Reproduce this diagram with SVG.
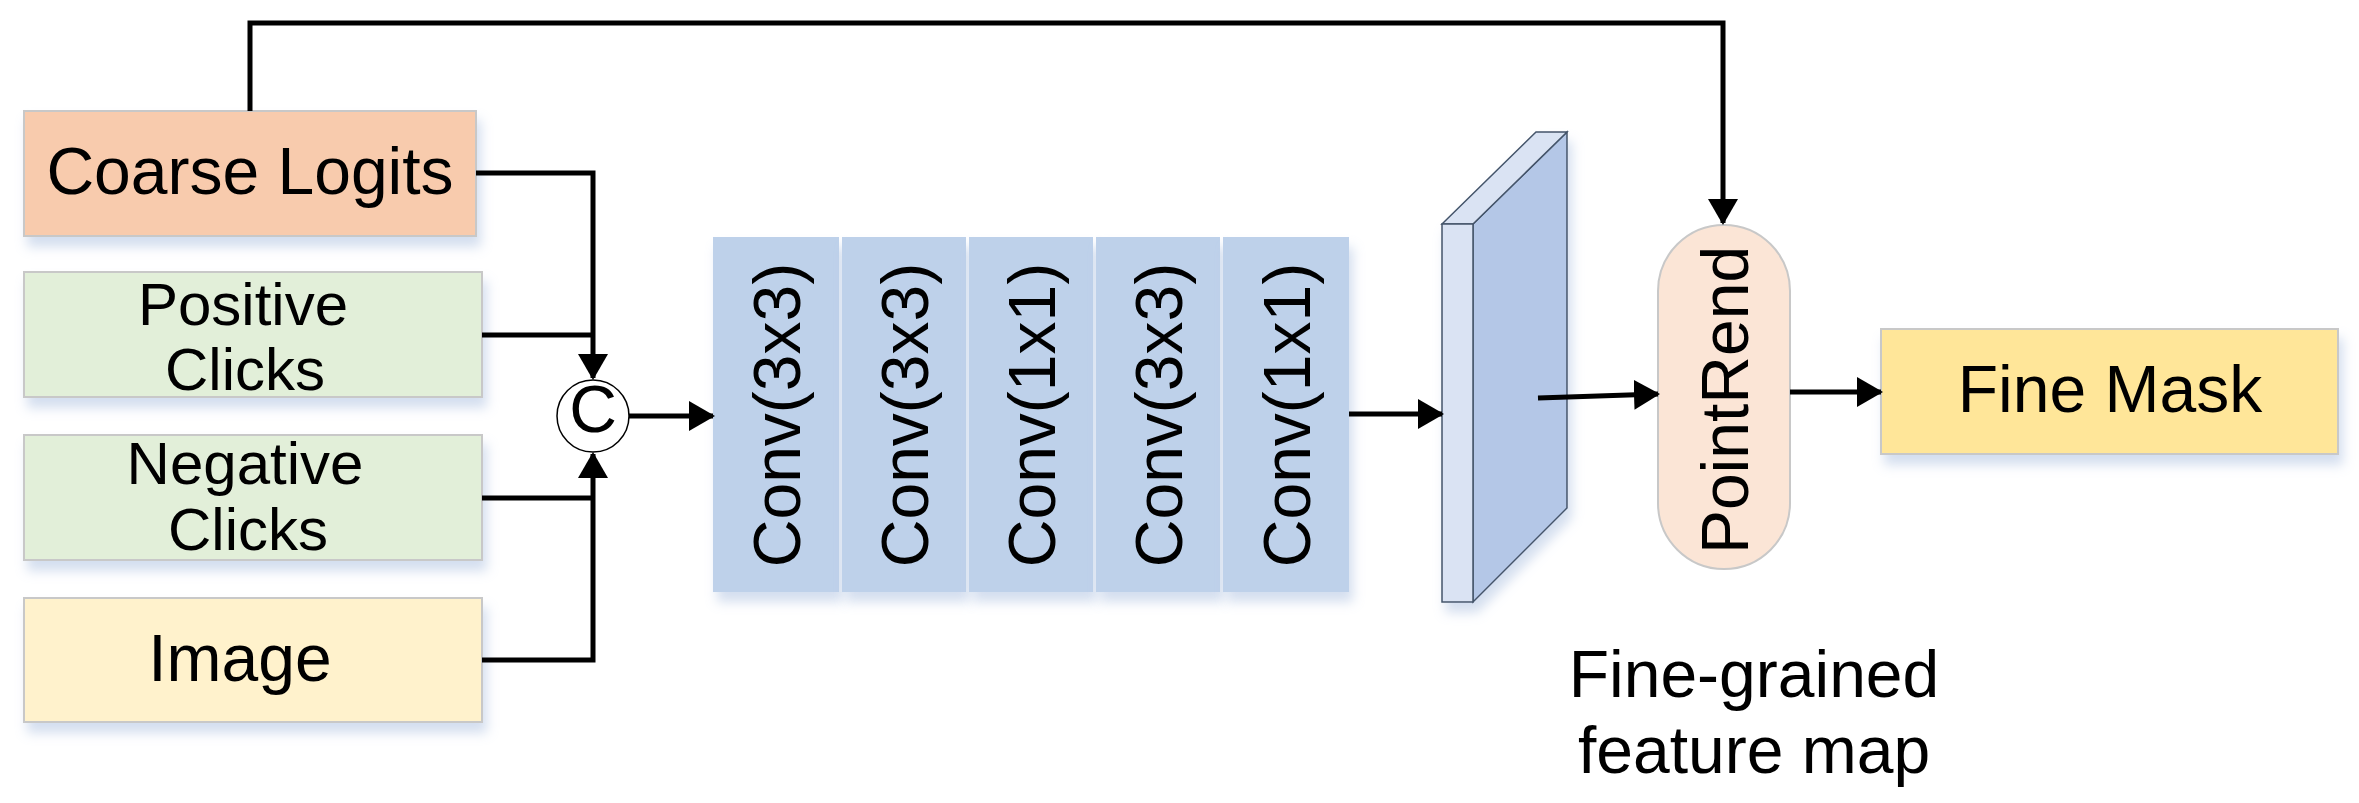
<svg xmlns="http://www.w3.org/2000/svg" width="2359" height="803" viewBox="0 0 2359 803">
<style>
text{font-family:"Liberation Sans",Arial,sans-serif;font-size:66px;fill:#000}
.two{font-size:60px}
.box{stroke:#c8c8c8;stroke-width:2}
.conv{fill:#bed1ea}
.ln{fill:none;stroke:#000;stroke-width:5}
</style>
<defs>
<marker id="ah" markerUnits="userSpaceOnUse" markerWidth="26" markerHeight="30" refX="24" refY="15" orient="auto"><path d="M0,0 L26,15 L0,30 Z" fill="#000"/></marker>
<filter id="sh" x="-10%" y="-10%" width="130%" height="140%"><feDropShadow dx="4" dy="10" stdDeviation="6" flood-color="#9fb6dc" flood-opacity="0.45"/></filter>
</defs>
<rect width="2359" height="803" fill="#fff"/>
<g id="coarse"><rect class="box" x="24" y="111" width="452" height="125" fill="#f8cbad" filter="url(#sh)"/><text x="250" y="194" text-anchor="middle">Coarse Logits</text></g>
<g id="positive"><rect class="box" x="24" y="272" width="458" height="125" fill="#e2efd9" filter="url(#sh)"/><text class="two" x="243" y="325" text-anchor="middle">Positive</text><text class="two" x="245" y="390" text-anchor="middle">Clicks</text></g>
<g id="negative"><rect class="box" x="24" y="435" width="458" height="125" fill="#e2efd9" filter="url(#sh)"/><text class="two" x="245" y="484" text-anchor="middle">Negative</text><text class="two" x="248" y="550" text-anchor="middle">Clicks</text></g>
<g id="image"><rect class="box" x="24" y="598" width="458" height="124" fill="#fff2cc" filter="url(#sh)"/><text x="240" y="681" text-anchor="middle">Image</text></g>
<g id="concat"><circle cx="593" cy="416" r="36" fill="#fff" stroke="#000" stroke-width="1.5"/><text x="593" y="432" text-anchor="middle" font-size="44">C</text></g>
<g id="convs">
<rect class="conv" x="713" y="237" width="126" height="355" filter="url(#sh)"/><rect class="conv" x="842" y="237" width="124" height="355" filter="url(#sh)"/><rect class="conv" x="969" y="237" width="124" height="355" filter="url(#sh)"/><rect class="conv" x="1096" y="237" width="124" height="355" filter="url(#sh)"/><rect class="conv" x="1223" y="237" width="126" height="355" filter="url(#sh)"/>
<text transform="translate(800,415) rotate(-90)" text-anchor="middle" font-size="68">Conv(3x3)</text>
<text transform="translate(928,415) rotate(-90)" text-anchor="middle" font-size="68">Conv(3x3)</text>
<text transform="translate(1055,415) rotate(-90)" text-anchor="middle" font-size="68">Conv(1x1)</text>
<text transform="translate(1182,415) rotate(-90)" text-anchor="middle" font-size="68">Conv(3x3)</text>
<text transform="translate(1310,415) rotate(-90)" text-anchor="middle" font-size="68">Conv(1x1)</text>
</g>
<g id="featuremap" filter="url(#sh)">
<polygon points="1473,224 1567,132 1567,508 1473,602" fill="#b4c7e7" stroke="#44546a" stroke-width="1.5"/>
<polygon points="1442,224 1536,132 1567,132 1473,224" fill="#dae3f3" stroke="#44546a" stroke-width="1.5"/>
<rect x="1442" y="224" width="31" height="378" fill="#dae3f3" stroke="#44546a" stroke-width="1.5"/>
</g>
<g id="fmlabel"><text x="1754" y="697" text-anchor="middle">Fine-grained</text><text x="1754" y="773" text-anchor="middle">feature map</text></g>
<g id="pointrend"><rect x="1658" y="225" width="132" height="344" rx="66" fill="#fbe5d6" stroke="#c8c8c8" stroke-width="2"/><text transform="translate(1748,400) rotate(-90)" text-anchor="middle" font-size="68">PointRend</text></g>
<g id="finemask"><rect class="box" x="1881" y="329" width="457" height="125" fill="#ffe699" filter="url(#sh)"/><text x="2110" y="412" text-anchor="middle">Fine Mask</text></g>
<g id="connectors">
<path class="ln" d="M250,111 V23 H1723 V223" marker-end="url(#ah)"/>
<path class="ln" d="M476,173 H593 V378" marker-end="url(#ah)"/>
<path class="ln" d="M482,335 H593"/>
<path class="ln" d="M482,498 H593"/>
<path class="ln" d="M482,660 H593 V454" marker-end="url(#ah)"/>
<path class="ln" d="M629,416 H713" marker-end="url(#ah)"/>
<path class="ln" d="M1349,414 H1442" marker-end="url(#ah)"/>
<path class="ln" d="M1538,398 L1658,394" marker-end="url(#ah)"/>
<path class="ln" d="M1790,392 H1881" marker-end="url(#ah)"/>
</g>
</svg>
